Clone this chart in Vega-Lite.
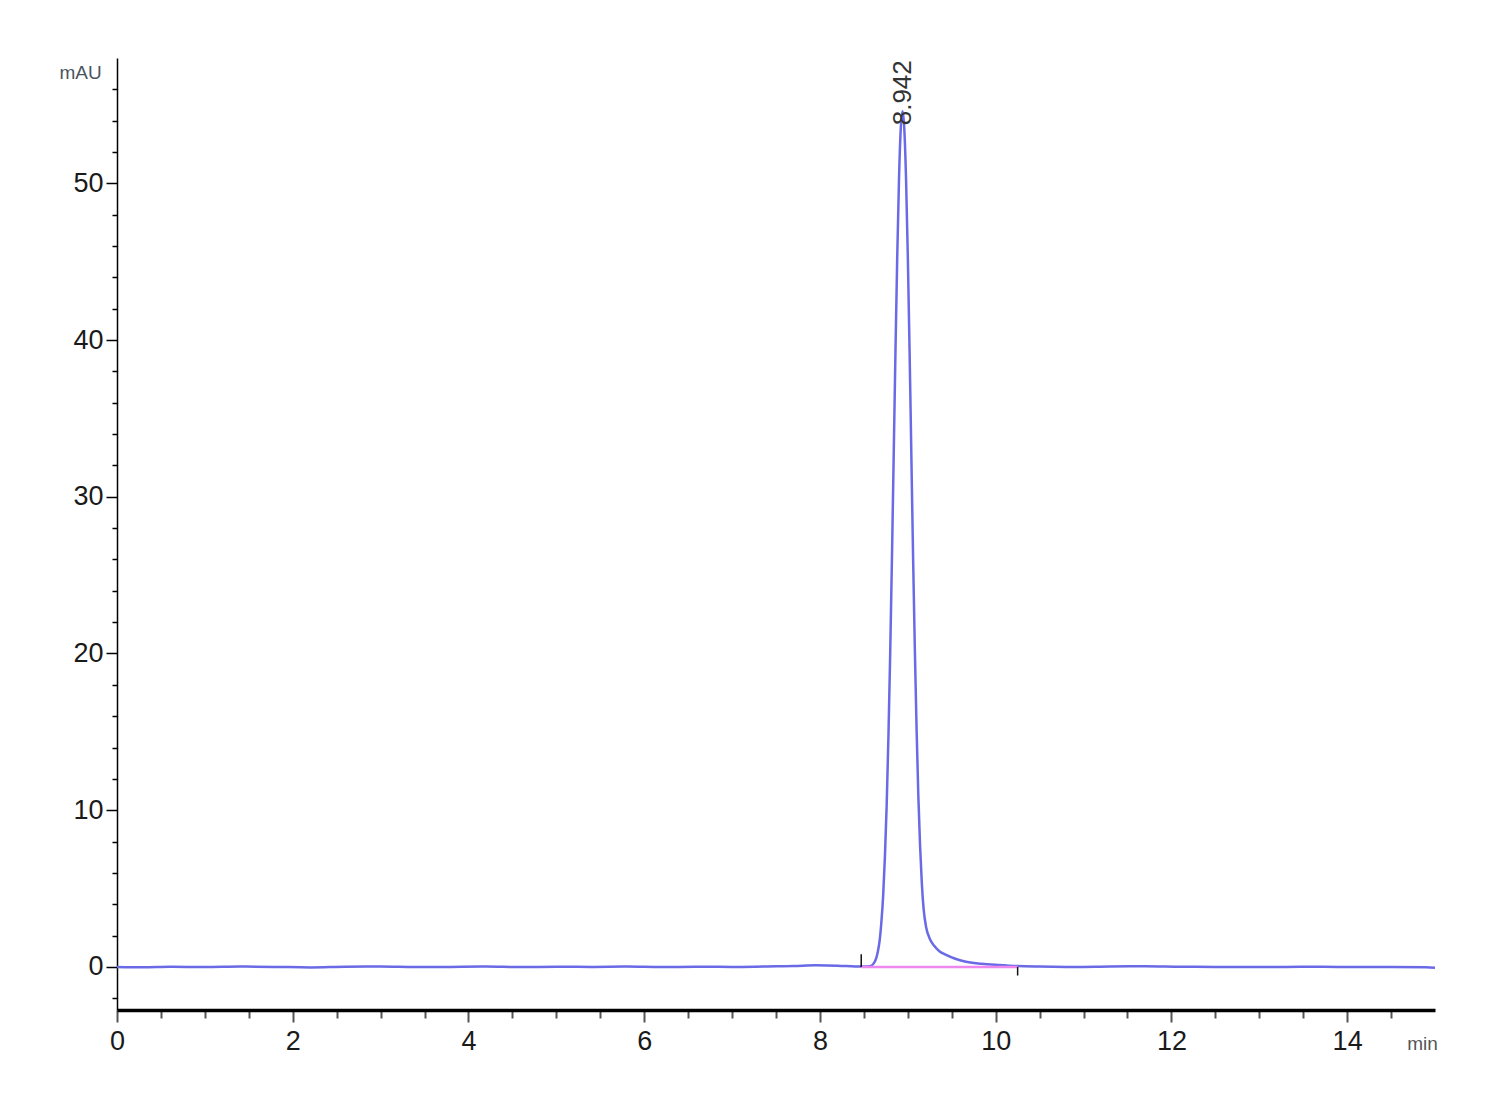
{
  "$schema": "https://vega.github.io/schema/vega-lite/v6.json",
  "autosize": "none",
  "width": 1318,
  "height": 952,
  "padding": {"left": 117, "top": 58, "right": 65, "bottom": 90},
  "background": "white",
  "config": {"view": {"stroke": null}},
  "datasets": {
    "signal": [
      {"t": 0.0, "v": 0.0}, {"t": 0.3, "v": -0.02}, {"t": 0.6, "v": 0.01}, {"t": 1.0, "v": -0.01},
      {"t": 1.4, "v": 0.02}, {"t": 1.8, "v": 0.0}, {"t": 2.2, "v": -0.03}, {"t": 2.6, "v": 0.01},
      {"t": 3.0, "v": 0.02}, {"t": 3.4, "v": -0.01}, {"t": 3.8, "v": 0.0}, {"t": 4.2, "v": 0.02},
      {"t": 4.6, "v": -0.01}, {"t": 5.0, "v": 0.01}, {"t": 5.4, "v": 0.0}, {"t": 5.8, "v": 0.02},
      {"t": 6.2, "v": -0.01}, {"t": 6.6, "v": 0.01}, {"t": 7.0, "v": 0.0}, {"t": 7.4, "v": 0.03},
      {"t": 7.7, "v": 0.05}, {"t": 7.95, "v": 0.1}, {"t": 8.2, "v": 0.08}, {"t": 8.4, "v": 0.03},
      {"t": 8.5, "v": 0.02}, {"t": 8.57, "v": 0.05}, {"t": 8.61, "v": 0.21}, {"t": 8.64, "v": 0.55},
      {"t": 8.66, "v": 1.0}, {"t": 8.68, "v": 1.7}, {"t": 8.70, "v": 2.9}, {"t": 8.72, "v": 4.6},
      {"t": 8.74, "v": 7.1}, {"t": 8.76, "v": 10.4}, {"t": 8.78, "v": 14.8}, {"t": 8.80, "v": 20.1},
      {"t": 8.82, "v": 26.2}, {"t": 8.84, "v": 32.8}, {"t": 8.86, "v": 39.4}, {"t": 8.88, "v": 45.4},
      {"t": 8.90, "v": 50.3}, {"t": 8.92, "v": 53.5}, {"t": 8.94, "v": 54.6}, {"t": 8.96, "v": 53.5},
      {"t": 8.98, "v": 50.3}, {"t": 9.00, "v": 45.4}, {"t": 9.02, "v": 39.4}, {"t": 9.04, "v": 32.8},
      {"t": 9.06, "v": 26.2}, {"t": 9.08, "v": 20.3}, {"t": 9.10, "v": 15.2}, {"t": 9.12, "v": 10.9},
      {"t": 9.14, "v": 7.7}, {"t": 9.16, "v": 5.3}, {"t": 9.18, "v": 3.7}, {"t": 9.21, "v": 2.5},
      {"t": 9.25, "v": 1.8}, {"t": 9.30, "v": 1.35}, {"t": 9.36, "v": 1.0}, {"t": 9.43, "v": 0.78},
      {"t": 9.54, "v": 0.52}, {"t": 9.65, "v": 0.34}, {"t": 9.84, "v": 0.2}, {"t": 10.03, "v": 0.12},
      {"t": 10.25, "v": 0.05}, {"t": 10.5, "v": 0.02},
      {"t": 10.9, "v": 0.0}, {"t": 11.3, "v": 0.03}, {"t": 11.7, "v": 0.04}, {"t": 12.1, "v": 0.01},
      {"t": 12.5, "v": 0.0}, {"t": 12.9, "v": -0.01}, {"t": 13.3, "v": 0.0}, {"t": 13.7, "v": 0.01},
      {"t": 14.1, "v": -0.01}, {"t": 14.5, "v": 0.0}, {"t": 14.9, "v": -0.02}, {"t": 15.0, "v": -0.05}
    ],
    "baseline": [{"t": 8.47, "v": 0}, {"t": 10.25, "v": 0}],
    "marks": [{"t": 8.47, "v": 0, "v2": 0.8}, {"t": 10.25, "v": 0, "v2": -0.55}],
    "label": [{"t": 8.942, "v": 54.6, "txt": "8.942"}]
  },
  "encoding": {
    "x": {
      "field": "t", "type": "quantitative",
      "scale": {"domain": [0, 15], "nice": false, "zero": false},
      "axis": {
        "orient": "bottom",
        "values": [0,0.5,1,1.5,2,2.5,3,3.5,4,4.5,5,5.5,6,6.5,7,7.5,8,8.5,9,9.5,10,10.5,11,11.5,12,12.5,13,13.5,14,14.5],
        "labelExpr": "datum.value % 2 === 0 ? format(datum.value, 'd') : ''",
        "grid": false,
        "domainColor": "#000000", "domainWidth": 3.5,
        "tickColor": "#555555", "tickWidth": 2,
        "tickSize": {"condition": {"test": "datum.value % 2 === 0", "value": 12}, "value": 8},
        "labelFont": "Liberation Sans", "labelFontSize": 27, "labelColor": "#1a1a1a",
        "labelPadding": 6, "labelFlush": false,
        "title": "min", "titleX": 1305, "titleY": 33, "titleAlign": "center", "titleBaseline": "middle",
        "titleFont": "Liberation Sans", "titleFontSize": 19, "titleFontWeight": "normal", "titleColor": "#555555"
      }
    },
    "y": {
      "field": "v", "type": "quantitative",
      "scale": {"domain": [-2.75, 58], "nice": false, "zero": false},
      "axis": {
        "orient": "left",
        "values": [-2,0,2,4,6,8,10,12,14,16,18,20,22,24,26,28,30,32,34,36,38,40,42,44,46,48,50,52,54,56],
        "labelExpr": "datum.value % 10 === 0 ? format(datum.value, 'd') : ''",
        "grid": false,
        "domainColor": "#000000", "domainWidth": 1.5,
        "tickColor": "#000000", "tickWidth": 1.5,
        "tickSize": {"condition": {"test": "datum.value % 10 === 0", "value": 11}, "value": 5},
        "labelFont": "Liberation Sans", "labelFontSize": 27, "labelColor": "#1a1a1a",
        "labelPadding": 3, "labelFlush": false,
        "title": "mAU", "titleAngle": 0, "titleX": -37, "titleY": 14, "titleAlign": "center", "titleBaseline": "middle",
        "titleFont": "Liberation Sans", "titleFontSize": 19, "titleFontWeight": "normal", "titleColor": "#4a5560"
      }
    }
  },
  "layer": [
    {
      "data": {"name": "signal"},
      "mark": {"type": "line", "color": "#6a6ae6", "strokeWidth": 2.5, "interpolate": "monotone"}
    },
    {
      "data": {"name": "baseline"},
      "mark": {"type": "line", "color": "#ee88ee", "strokeWidth": 2.5}
    },
    {
      "data": {"name": "marks"},
      "mark": {"type": "rule", "color": "#111111", "strokeWidth": 1.5},
      "encoding": {"y2": {"field": "v2"}}
    },
    {
      "data": {"name": "label"},
      "mark": {"type": "text", "angle": 270, "align": "left", "baseline": "middle", "dx": -14, "font": "Liberation Sans", "fontSize": 26, "color": "#333333"},
      "encoding": {"text": {"field": "txt"}}
    }
  ]
}
